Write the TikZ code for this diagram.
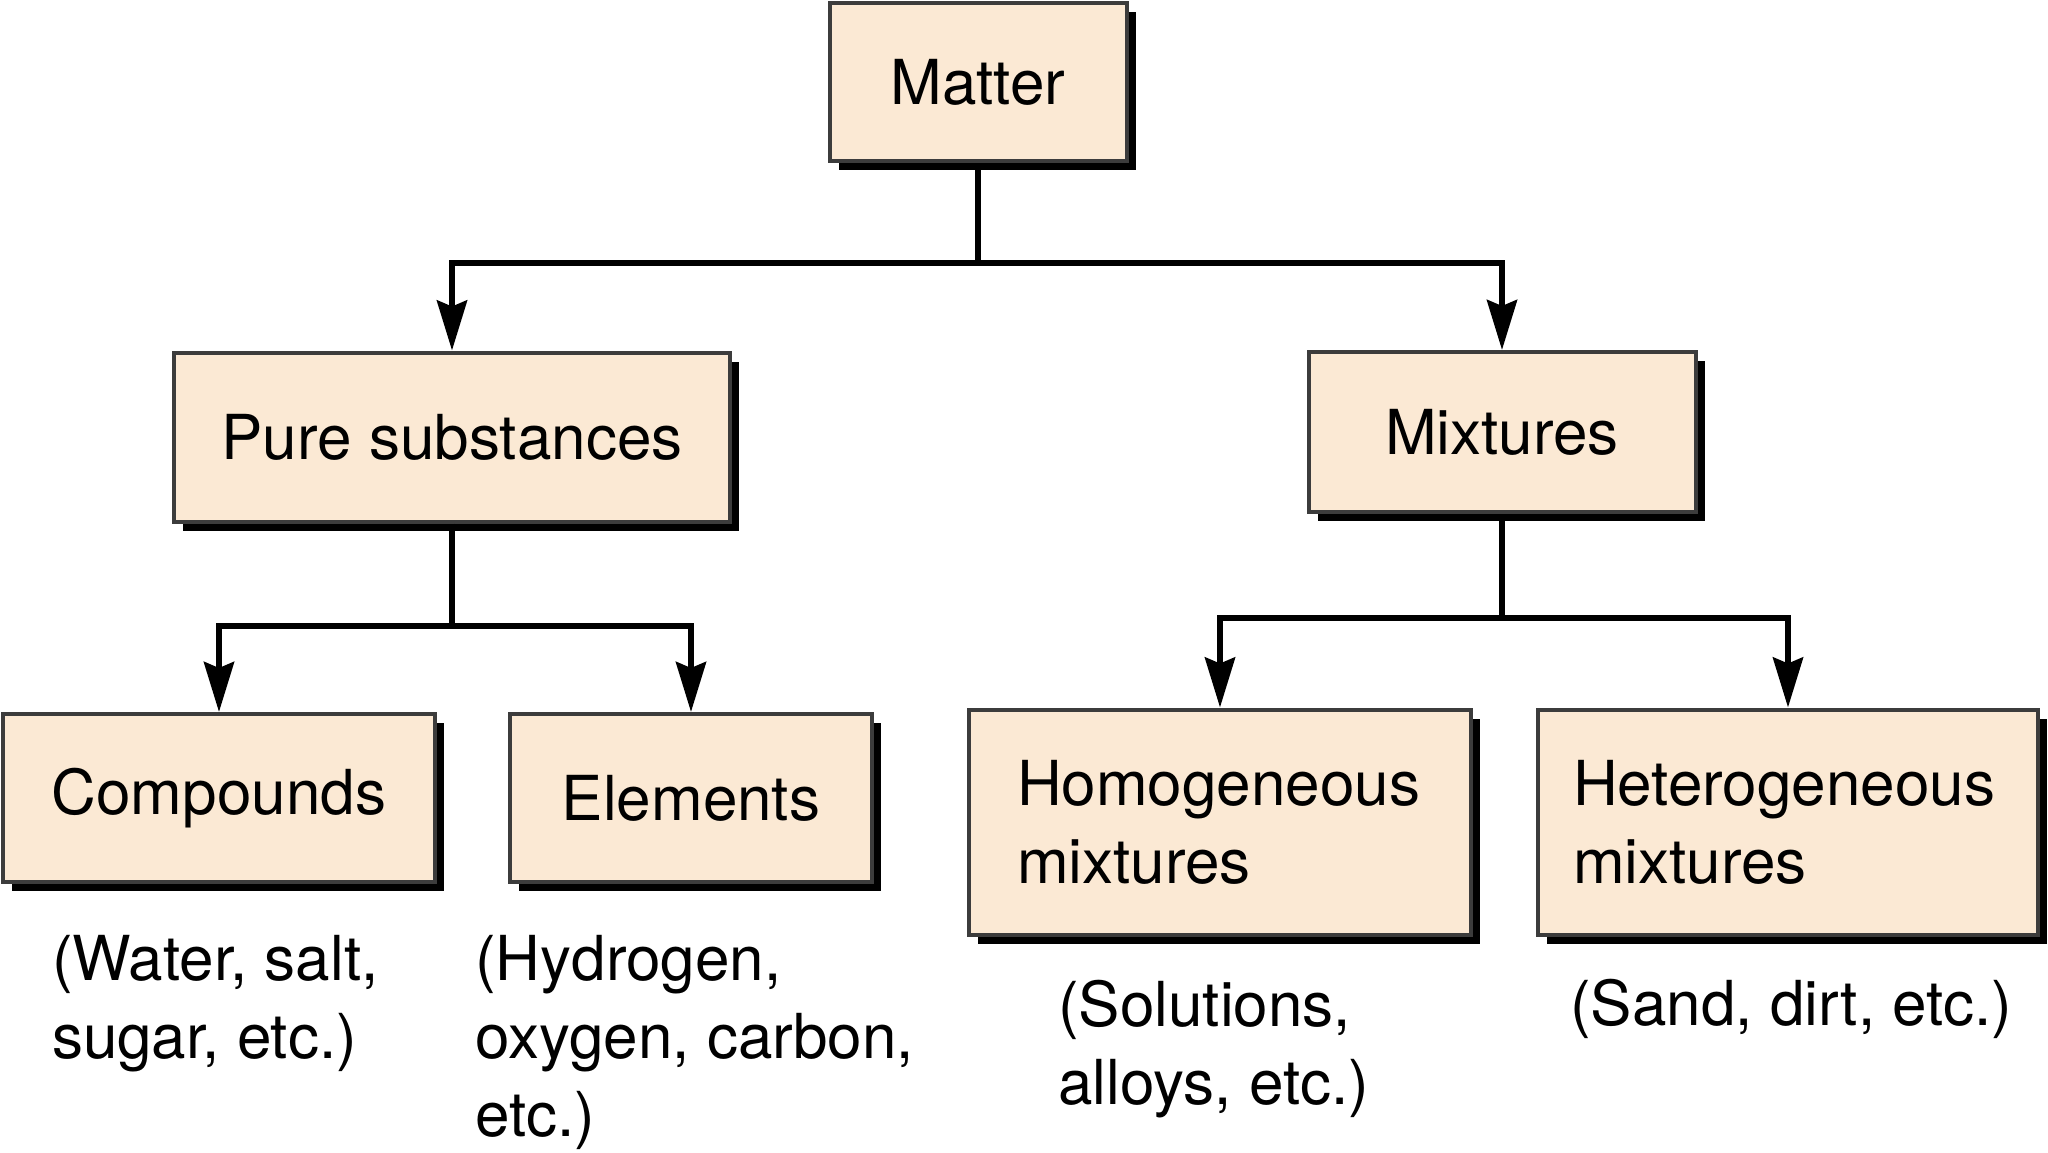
\documentclass[tikz,border=0pt]{standalone}
\usepackage{fontspec}
\setmainfont{TeX Gyre Heros}
\usetikzlibrary{arrows.meta,shadows}

\definecolor{boxfill}{RGB}{251,233,212}
\definecolor{boxline}{RGB}{60,60,60}

\tikzset{
  box/.style={draw=boxline, line width=4pt, fill=boxfill, inner sep=0pt,
    font=\fontsize{62}{78}\selectfont,
    drop shadow={shadow xshift=9pt, shadow yshift=-9pt, fill=black, opacity=1}},
  note/.style={anchor=base west, align=left, inner sep=0pt, font=\fontsize{62}{78}\selectfont},
  link/.style={line width=6pt},
  arr/.style={line width=6pt, -{Stealth[length=50pt,width=30pt,inset=6pt]}}
}

\begin{document}
\begin{tikzpicture}[x=1pt,y=-1pt]
              \useasboundingbox (0,0) rectangle (2048,1152);

              \node[box, minimum width=297pt, minimum height=158pt] (matter) at (978,82) {Matter};
              \node[box, minimum width=556pt, minimum height=169pt] (pure) at (452,437) {Pure substances};
              \node[box, minimum width=387pt, minimum height=160pt] (mix) at (1502,432) {Mixtures};
              \node[box, minimum width=432pt, minimum height=168pt] (comp) at (219,798) {Compounds};
              \node[box, minimum width=362pt, minimum height=168pt] (elem) at (691,798) {Elements};
              \node[box, minimum width=502pt, minimum height=225pt, text width=406pt, align=left] (homo) at (1220,822) {Homogeneous\\mixtures};
              \node[box, minimum width=500pt, minimum height=225pt, text width=430pt, align=left] (hetero) at (1788,822) {Heterogeneous\\mixtures};

              % last line baselines
              \node[note] (water) at (52,1058) {(Water, salt,\\sugar, etc.)};
              \node[note] (hydro) at (475,1136) {(Hydrogen,\\oxygen, carbon,\\etc.)};
              \node[note] (sol) at (1058,1104) {(Solutions,\\alloys, etc.)};
              \node[note] (sand) at (1570,1025) {(Sand, dirt, etc.)};

              \coordinate (msplit) at (978,263);
              \coordinate (psplit) at (452,626);
              \coordinate (xsplit) at (1502,618);

              \draw[link] (matter) -- (msplit);
              \draw[arr] (msplit) -| (pure);
              \draw[arr] (msplit) -| (mix);
              \draw[link] (pure) -- (psplit);
              \draw[arr] (psplit) -| (comp);
              \draw[arr] (psplit) -| (elem);
              \draw[link] (mix) -- (xsplit);
              \draw[arr] (xsplit) -| (homo);
              \draw[arr] (xsplit) -| (hetero);
\end{tikzpicture}
\end{document}
